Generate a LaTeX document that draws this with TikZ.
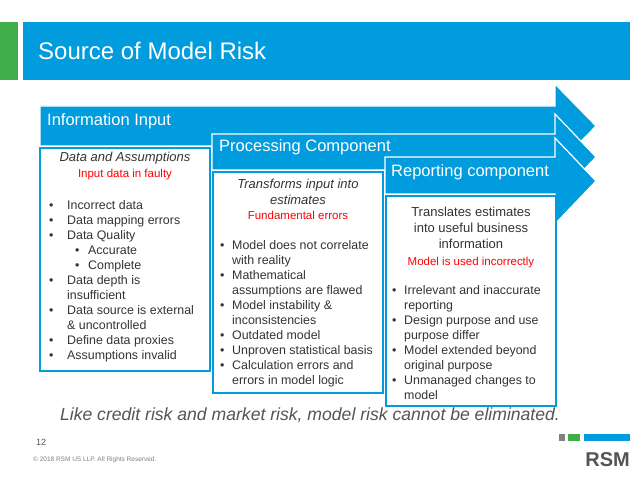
\documentclass[tikz,border=0pt]{standalone}
\usepackage{fontspec}
\setmainfont{Liberation Sans}
\definecolor{rsmblue}{HTML}{009CDE}
\definecolor{rsmgreen}{HTML}{3FAE49}
\definecolor{txt}{HTML}{333333}
\definecolor{gr}{HTML}{555555}
\begin{document}
\begin{tikzpicture}[x=1pt,y=-1pt,
  arr/.style={fill=rsmblue,draw=white,line width=1.2pt},
  box/.style={draw=rsmblue,line width=1.3pt,fill=white},
  lbl/.style={anchor=west,text=white,font=\fontsize{16.5}{18}\selectfont,inner sep=0},
  ln/.style={anchor=base west,inner sep=0,text=txt,font=\fontsize{12.4}{14}\selectfont},
  ctr/.style={anchor=base,inner sep=0,text=txt,font=\fontsize{13}{15}\selectfont},
  red/.style={anchor=base,inner sep=0,text=red,font=\fontsize{11.5}{13}\selectfont}]
\useasboundingbox (0,0) rectangle (638,478);
\fill[white] (0,0) rectangle (638,478);
% header
\fill[rsmgreen] (0,22) rectangle (18,80);
\fill[rsmblue] (23,22) rectangle (630,80);
\node[anchor=west,text=white,font=\fontsize{24}{28}\selectfont,inner sep=0] (title) at (38,51) {Source of Model Risk};
% arrows
\draw[arr] (40,106) -- (555,106) -- (555,84) -- (596,126) -- (555,168) -- (555,146) -- (40,146) -- cycle;
\draw[arr] (212,134) -- (555,134) -- (555,114) -- (596,157) -- (555,200) -- (555,170) -- (212,170) -- cycle;
\draw[arr] (385,157) -- (555,157) -- (555,138) -- (596,181) -- (555,224) -- (555,194) -- (385,194) -- cycle;
\node[lbl] (a1) at (47,121) {Information Input};
\node[lbl] (a2) at (219,147) {Processing Component};
\node[lbl] (a3) at (391,172) {Reporting component};
% boxes
\draw[box] (40,148) rectangle (210,371);
\draw[box] (213,172) rectangle (383,393);
\draw[box] (386,196) rectangle (556,406);
% box1
\node[ctr,font=\fontsize{13}{15}\selectfont\itshape] (b1t) at (125,162) {Data and Assumptions};
\node[red] (b1r) at (125,178) {Input data in faulty};
\foreach \t/\y/\b in {Incorrect data/210/1,Data mapping errors/225/1,Data Quality/240/1,Data depth is/285/1,insufficient/300/0,Data source is external/315/1,\& uncontrolled/330/0,Define data proxies/345/1,Assumptions invalid/360/1}{
  \node[ln] at (67,\y) {\t};
  \ifnum\b=1 \node[ln] at (49,\y) {•};\fi
}
\foreach \t/\y in {Accurate/255,Complete/270}{
  \node[ln] at (88,\y) {\t};
  \node[ln] at (75,\y) {•};
}
% box2
\node[ctr,font=\fontsize{13}{15}\selectfont\itshape] (b2t) at (298,189) {Transforms input into};
\node[ctr,font=\fontsize{13}{15}\selectfont\itshape] (b2u) at (298,205) {estimates};
\node[red] (b2r) at (298,220) {Fundamental errors};
\foreach \t/\y/\b in {Model does not correlate/250/1,with reality/265/0,Mathematical/280/1,assumptions are flawed/295/0,Model instability \&/310/1,inconsistencies/325/0,Outdated model/340/1,Unproven statistical basis/355/1,Calculation errors and/370/1,errors in model logic/385/0}{
  \node[ln] at (232,\y) {\t};
  \ifnum\b=1 \node[ln] at (220,\y) {•};\fi
}
% box3
\node[ctr] (b3t) at (471,217) {Translates estimates};
\node[ctr] (b3u) at (471,233) {into useful business};
\node[ctr] (b3v) at (471,249) {information};
\node[red] (b3r) at (471,266) {Model is used incorrectly};
\foreach \t/\y/\b in {Irrelevant and inaccurate/295/1,reporting/310/0,Design purpose and use/325/1,purpose differ/340/0,Model extended beyond/355/1,original purpose/370/0,Unmanaged changes to/385/1,model/400/0}{
  \node[ln] at (404,\y) {\t};
  \ifnum\b=1 \node[ln] at (392,\y) {•};\fi
}
% footer
\node[anchor=base,inner sep=0,text=gr,font=\fontsize{17.6}{20}\selectfont\itshape] (quote) at (310,421) {Like credit risk and market risk, model risk cannot be eliminated.};
\node[anchor=base west,inner sep=0,text=gr,font=\fontsize{9}{10}\selectfont] (pg) at (36,446) {12};
\node[anchor=base west,inner sep=0,text=gray,font=\fontsize{6.5}{8}\selectfont] (copy) at (33,462) {© 2018 RSM US LLP. All Rights Reserved.};
\fill[gray] (559,434) rectangle (565,441);
\fill[rsmgreen] (568,434) rectangle (580,441);
\fill[rsmblue] (584,434) rectangle (630,441);
\node[anchor=base east,inner sep=0,text=gr,font=\fontsize{20}{22}\selectfont\bfseries] (logo) at (630,467) {RSM};
\end{tikzpicture}
\end{document}
